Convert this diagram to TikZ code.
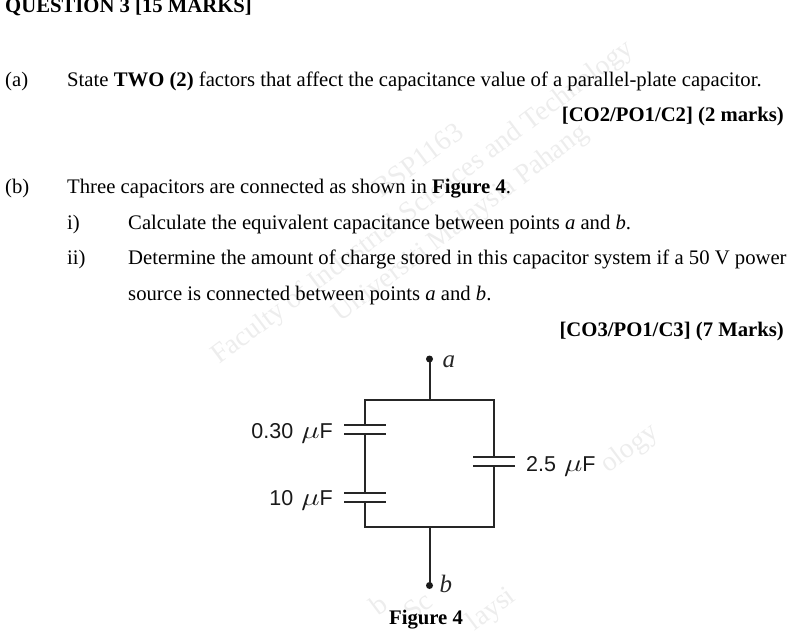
\documentclass[tikz,border=0pt]{standalone}
\usepackage{fontspec}
\setmainfont{Liberation Serif}
\newfontfamily\labelfont{Liberation Sans}
\usepackage{tikz}
\usetikzlibrary{positioning}
\newcommand\micro{\hspace{8pt}\scalebox{1.5}[1.2]{$\mu$}}
\tikzset{
  x=1pt, y=-1pt,
  txt/.style={anchor=base west, inner sep=0pt, font=\fontsize{20.7}{24}\selectfont},
  txtr/.style={anchor=base east, inner sep=0pt, font=\fontsize{20.7}{24}\selectfont},
  ptlabel/.style={anchor=base west, inner sep=0pt, font=\fontsize{25}{28}\selectfont\itshape, text=black!85},
  capval/.style={inner sep=0pt, font=\labelfont\fontsize{21.5}{24}\selectfont, text=black!90},
  pnt/.style={circle, fill=black!90, inner sep=0pt, minimum size=7pt},
  wire/.style={line width=2pt, line cap=rect, black!85},
  plate/.style={line width=2pt, black!85},
  wmark/.style={rotate=37, inner sep=0pt, text=black!7, font=\fontsize{28}{30}\selectfont},
}
\begin{document}
\begin{tikzpicture}
\useasboundingbox (0,0) rectangle (789,634);
% watermark
\node[wmark] (w1) at (423,203) {Faculty of Industrial Sciences and Technology};
\node[wmark] (w2) at (461,224) {Universiti Malaysia Pahang};
\node[wmark] (w3) at (418,160) {BSP1163};
\node[wmark] (w4) at (630,449) {ology};
\node[wmark] (w5) at (492,610) {laysi};
\node[wmark] (w6) at (378,605) {b};
\node[wmark] (w7) at (418,606) {Sc};
% text
\node[txt] (title) at (5,13) {\textbf{QUESTION 3 [15 MARKS]}};
\node[txt] (pa) at (5,86.5) {(a)};
\node[txt] (qa) at (67,86.5) {State \textbf{TWO (2)} factors that affect the capacitance value of a parallel-plate capacitor.};
\node[txtr] (ma) at (784,121.5) {\textbf{[CO2/PO1/C2] (2 marks)}};
\node[txt] (pb) at (5,193) {(b)};
\node[txt] (qb) at (67,193) {Three capacitors are connected as shown in \textbf{Figure 4}.};
\node[txt] (pi) at (67,229) {i)};
\node[txt] (qi) at (128,229) {Calculate the equivalent capacitance between points \textit{a} and \textit{b}.};
\node[txt] (pii) at (67,264) {ii)};
\node[txt] (qii) at (128,264) {Determine the amount of charge stored in this capacitor system if a 50 V power};
\node[txt] (qiii) at (128,300) {source is connected between points \textit{a} and \textit{b}.};
\node[txtr] (mb) at (784,336) {\textbf{[CO3/PO1/C3] (7 Marks)}};
\node[txt, anchor=base] (fig) at (426,624) {\textbf{Figure 4}};
% circuit
\node[pnt] (a) at (429.5,359) {};
\node[pnt] (b) at (429.5,585.5) {};
\node[ptlabel] (la) at (442.5,367) {a};
\node[ptlabel] (lb) at (439.5,592) {b};
\coordinate (top) at (429.5,400);
\coordinate (bot) at (429.5,527);
\coordinate (tl) at (365,400);
\coordinate (tr) at (494,400);
\coordinate (bl) at (365,527);
\coordinate (br) at (494,527);
\coordinate (c1t) at (365,425);
\coordinate (c1b) at (365,434);
\coordinate (c2t) at (365,493);
\coordinate (c2b) at (365,502);
\coordinate (c3t) at (494,457);
\coordinate (c3b) at (494,466);
\draw[wire] (a) -- (top);
\draw[wire] (b) -- (bot);
\draw[wire] (c1t) -- (tl) -- (tr) -- (c3t);
\draw[wire] (c1b) -- (c2t);
\draw[wire] (c2b) -- (bl) -- (br) -- (c3b);
\foreach \p in {c1t,c1b,c2t,c2b,c3t,c3b}
  \draw[plate] ([xshift=-21pt]\p) -- ([xshift=21pt]\p);
\node[capval, anchor=base east] (v1) at (333,438) {0.30\micro F};
\node[capval, anchor=base east] (v2) at (333,505) {10\micro F};
\node[capval, anchor=base west] (v3) at (526,471.5) {2.5\micro F};
\end{tikzpicture}
\end{document}
